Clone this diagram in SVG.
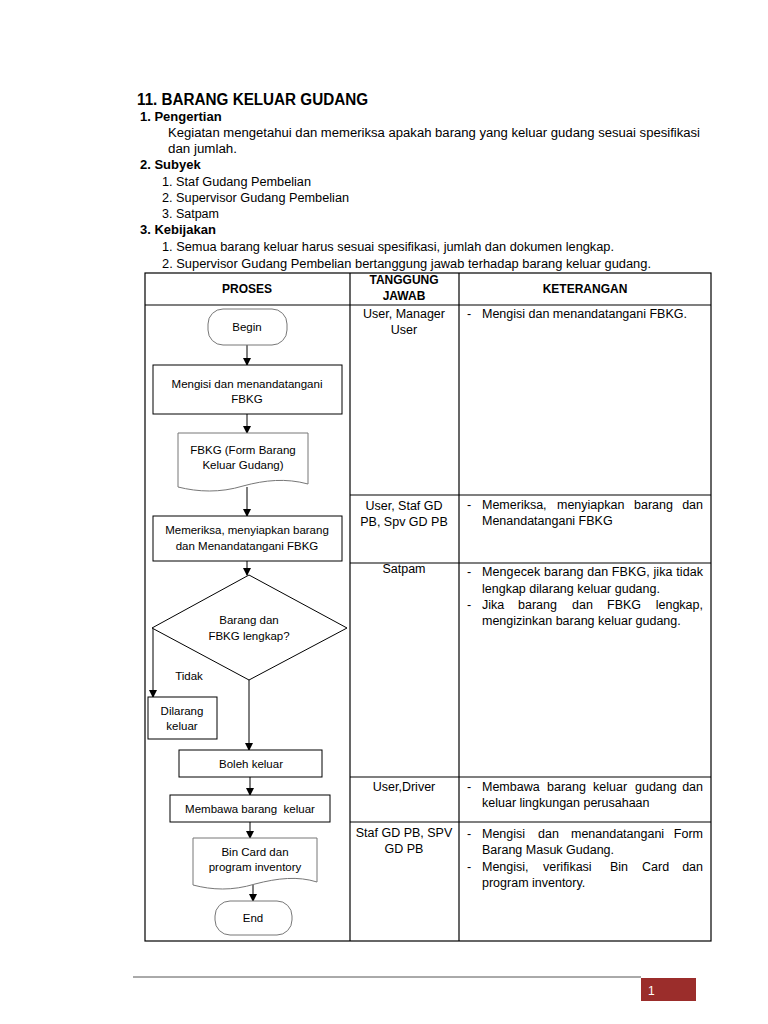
<svg xmlns="http://www.w3.org/2000/svg" width="768" height="1024" viewBox="0 0 768 1024">
<defs>
<style>
text{font-family:"Liberation Sans",Arial,sans-serif;fill:#000}
.t{font-size:16px;font-weight:bold}
.h{font-size:13px;font-weight:bold}
.b{font-size:12.5px}
.c{font-size:12.5px;text-anchor:middle}
.ch{font-size:12px;font-weight:bold;text-anchor:middle}
.f{font-size:11.5px;text-anchor:middle;white-space:pre}
.grid{stroke:#000;stroke-width:1.2;fill:none}
.box{fill:#fff;stroke:#000;stroke-width:1}
.soft{fill:#fff;stroke:#777;stroke-width:1}
.con{stroke:#000;stroke-width:1;fill:none;marker-end:url(#ah)}
</style>
<marker id="ah" markerWidth="8" markerHeight="8" refX="7" refY="4" orient="auto" markerUnits="userSpaceOnUse">
<path d="M0,0 L8,4 L0,8 Z" fill="#000"/>
</marker>
</defs>
<rect width="768" height="1024" fill="#fff"/>

<g id="header-text">
<text class="t" x="137" y="105" textLength="231" lengthAdjust="spacingAndGlyphs">11. BARANG KELUAR GUDANG</text>
<text class="h" x="140" y="121">1. Pengertian</text>
<text class="b" x="168" y="137" textLength="532" lengthAdjust="spacingAndGlyphs">Kegiatan mengetahui dan memeriksa apakah barang yang keluar gudang sesuai spesifikasi</text>
<text class="b" x="168" y="153" textLength="69" lengthAdjust="spacingAndGlyphs">dan jumlah.</text>
<text class="h" x="140" y="169">2. Subyek</text>
<text class="b" x="162" y="186" textLength="149" lengthAdjust="spacingAndGlyphs">1. Staf Gudang Pembelian</text>
<text class="b" x="162" y="202" textLength="187" lengthAdjust="spacingAndGlyphs">2. Supervisor Gudang Pembelian</text>
<text class="b" x="162" y="218" textLength="57" lengthAdjust="spacingAndGlyphs">3. Satpam</text>
<text class="h" x="140" y="234">3. Kebijakan</text>
<text class="b" x="162" y="251" textLength="452" lengthAdjust="spacingAndGlyphs">1. Semua barang keluar harus sesuai spesifikasi, jumlah dan dokumen lengkap.</text>
<text class="b" x="162" y="268" textLength="489" lengthAdjust="spacingAndGlyphs">2. Supervisor Gudang Pembelian bertanggung jawab terhadap barang keluar gudang.</text>
</g>

<g id="table">
<rect class="grid" x="145" y="273" width="566" height="668"/>
<line class="grid" x1="350" y1="273" x2="350" y2="941"/>
<line class="grid" x1="459" y1="273" x2="459" y2="941"/>
<line class="grid" x1="145" y1="305" x2="711" y2="305"/>
<line class="grid" x1="350" y1="495" x2="711" y2="495"/>
<line class="grid" x1="350" y1="563" x2="711" y2="563"/>
<line class="grid" x1="350" y1="777" x2="711" y2="777"/>
<line class="grid" x1="350" y1="822" x2="711" y2="822"/>
<text class="ch" x="247" y="293">PROSES</text>
<text class="ch" x="404" y="284">TANGGUNG</text>
<text class="ch" x="404" y="300">JAWAB</text>
<text class="ch" x="585" y="293">KETERANGAN</text>
</g>

<g id="col-tanggung-jawab">
<text class="c" x="404" y="318">User, Manager</text>
<text class="c" x="404" y="334">User</text>
<text class="c" x="404" y="510">User, Staf GD</text>
<text class="c" x="404" y="526">PB, Spv GD PB</text>
<text class="c" x="404" y="573">Satpam</text>
<text class="c" x="404" y="791">User,Driver</text>
<text class="c" x="404" y="837">Staf GD PB, SPV</text>
<text class="c" x="404" y="853">GD PB</text>
</g>

<g id="col-keterangan">
<text class="b" x="467" y="318">-</text>
<text class="b" x="482" y="318">Mengisi dan menandatangani FBKG.</text>
<text class="b" x="467" y="509">-</text>
<text class="b" y="509"><tspan x="482">Memeriksa,</tspan><tspan x="557">menyiapkan</tspan><tspan x="634">barang</tspan></text>
<text class="b" x="703" y="509" style="text-anchor:end">dan</text>
<text class="b" x="482" y="525">Menandatangani FBKG</text>
<text class="b" x="467" y="576">-</text>
<text class="b" x="482" y="576" textLength="221" lengthAdjust="spacing">Mengecek barang dan FBKG, jika tidak</text>
<text class="b" x="482" y="593">lengkap dilarang keluar gudang.</text>
<text class="b" x="467" y="609">-</text>
<text class="b" y="609"><tspan x="482">Jika</tspan><tspan x="518">barang</tspan><tspan x="572">dan</tspan><tspan x="607">FBKG</tspan></text>
<text class="b" x="703" y="609" style="text-anchor:end">lengkap,</text>
<text class="b" x="482" y="625">mengizinkan barang keluar gudang.</text>
<text class="b" x="467" y="791">-</text>
<text class="b" y="791"><tspan x="482">Membawa</tspan><tspan x="547">barang</tspan><tspan x="593">keluar</tspan><tspan x="635">gudang</tspan></text>
<text class="b" x="703" y="791" style="text-anchor:end">dan</text>
<text class="b" x="482" y="807">keluar lingkungan perusahaan</text>
<text class="b" x="467" y="838">-</text>
<text class="b" y="838"><tspan x="482">Mengisi</tspan><tspan x="538">dan</tspan><tspan x="571">menandatangani</tspan></text>
<text class="b" x="703" y="838" style="text-anchor:end">Form</text>
<text class="b" x="482" y="854">Barang Masuk Gudang.</text>
<text class="b" x="467" y="871">-</text>
<text class="b" y="871"><tspan x="482">Mengisi,</tspan><tspan x="543">verifikasi</tspan><tspan x="610">Bin</tspan><tspan x="642">Card</tspan></text>
<text class="b" x="703" y="871" style="text-anchor:end">dan</text>
<text class="b" x="482" y="887">program inventory.</text>
</g>

<g id="connectors">
<line class="con" x1="247" y1="345" x2="247" y2="365"/>
<line class="con" x1="247" y1="414" x2="247" y2="433"/>
<line class="con" x1="247" y1="487" x2="247" y2="516"/>
<line class="con" x1="247" y1="561" x2="247" y2="575"/>
<polyline class="con" points="153,628 153,697"/>
<line class="con" x1="249" y1="680" x2="249" y2="750"/>
<line class="con" x1="250" y1="777" x2="250" y2="795"/>
<line class="con" x1="250" y1="822" x2="250" y2="838"/>
<line class="con" x1="253" y1="885" x2="253" y2="901"/>
<text class="f" x="189" y="680">Tidak</text>
</g>

<g id="n-begin">
<rect class="soft" x="208" y="309" width="79" height="36" rx="15"/>
<text class="f" x="247" y="331">Begin</text>
</g>
<g id="n-mengisi">
<rect class="box" x="153" y="365" width="189" height="49"/>
<text class="f" x="247" y="388">Mengisi dan menandatangani</text>
<text class="f" x="247" y="403">FBKG</text>
</g>
<g id="n-fbkg">
<path class="soft" d="M178,433 H308 V484 C286,478 265,480 243,486 C220,493 198,492 178,487 Z"/>
<text class="f" x="243" y="454">FBKG (Form Barang</text>
<text class="f" x="243" y="469">Keluar Gudang)</text>
</g>
<g id="n-memeriksa">
<rect class="box" x="153" y="516" width="189" height="45"/>
<text class="f" x="247" y="534">Memeriksa, menyiapkan barang</text>
<text class="f" x="247" y="550">dan Menandatangani FBKG</text>
</g>
<g id="n-decision">
<polygon class="box" points="249,575 347,628 249,680 152,628"/>
<text class="f" x="249" y="624">Barang dan</text>
<text class="f" x="249" y="640">FBKG lengkap?</text>
</g>
<g id="n-dilarang">
<rect class="box" x="148" y="697" width="69" height="42"/>
<text class="f" x="182" y="715">Dilarang</text>
<text class="f" x="182" y="730">keluar</text>
</g>
<g id="n-boleh">
<rect class="box" x="179" y="750" width="143" height="27"/>
<text class="f" x="251" y="768">Boleh keluar</text>
</g>
<g id="n-membawa">
<rect class="box" x="170" y="795" width="160" height="27"/>
<text class="f" x="250" y="813">Membawa barang  keluar</text>
</g>
<g id="n-bincard">
<path class="soft" d="M193,838 H317 V882 C298,876 278,878 255,884 C232,891 212,890 193,885 Z"/>
<text class="f" x="255" y="856">Bin Card dan</text>
<text class="f" x="255" y="871">program inventory</text>
</g>
<g id="n-end">
<rect class="soft" x="215" y="901" width="77" height="34" rx="15"/>
<text class="f" x="253" y="922">End</text>
</g>

<g id="footer">
<line x1="133" y1="977" x2="641" y2="977" stroke="#555" stroke-width="1"/>
<rect x="641" y="978" width="55" height="23" fill="#9b2d2b"/>
<text x="648" y="995" style="font-size:12px;fill:#fff">1</text>
</g>
</svg>
